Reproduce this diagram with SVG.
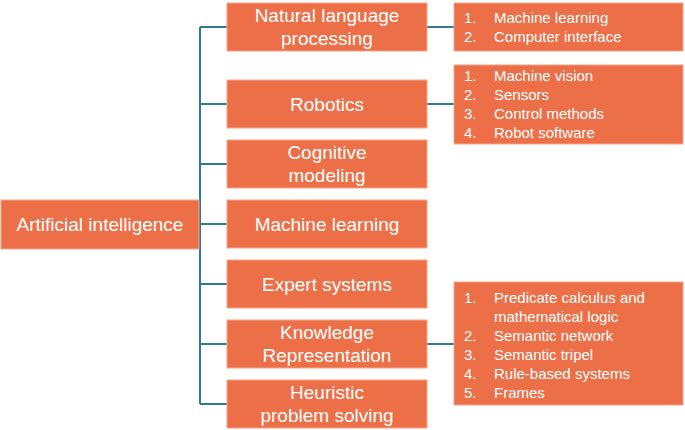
<svg xmlns="http://www.w3.org/2000/svg" width="685" height="430" viewBox="0 0 685 430">
<style>
.box{fill:#EC6F48;stroke:#F3A486;stroke-width:1}
.t{font-family:"Liberation Sans",Arial,sans-serif;fill:#FFFFFF;font-size:19px;text-anchor:middle}
.s{font-family:"Liberation Sans",Arial,sans-serif;fill:#FFFFFF;font-size:15px}
.c{fill:none;stroke:#2F789E;stroke-width:2}
</style>
<rect width="685" height="430" fill="#FFFFFF"/>
<g id="connectors">
<path class="c" d="M199 224.5H200M200 27V404M200 27H227M200 104H227M200 164H227M200 224H227M200 284H227M200 344H227M200 404H227"/>
<path class="c" d="M427 27H454M427 104H454M427 344H454"/>
</g>
<g id="root"><rect class="box" x="1" y="200" width="198" height="49"/><text class="t" x="100" y="231">Artificial intelligence</text></g>
<g id="nlp"><rect class="box" x="227" y="3" width="200" height="48"/><text class="t" x="327" y="22">Natural language</text><text class="t" x="327" y="45">processing</text></g>
<g id="robotics"><rect class="box" x="227" y="80" width="200" height="48"/><text class="t" x="327" y="111">Robotics</text></g>
<g id="cognitive"><rect class="box" x="227" y="140" width="200" height="48"/><text class="t" x="327" y="159">Cognitive</text><text class="t" x="327" y="182">modeling</text></g>
<g id="ml"><rect class="box" x="227" y="200" width="200" height="48"/><text class="t" x="327" y="231">Machine learning</text></g>
<g id="expert"><rect class="box" x="227" y="260" width="200" height="48"/><text class="t" x="327" y="291">Expert systems</text></g>
<g id="kr"><rect class="box" x="227" y="320" width="200" height="48"/><text class="t" x="327" y="339">Knowledge</text><text class="t" x="327" y="362">Representation</text></g>
<g id="heuristic"><rect class="box" x="227" y="380" width="200" height="48"/><text class="t" x="327" y="399">Heuristic</text><text class="t" x="327" y="422">problem solving</text></g>
<g id="nlp-list"><rect class="box" x="454" y="3" width="229" height="48"/>
<text class="s" x="464" y="23">1.</text><text class="s" x="494" y="23">Machine learning</text>
<text class="s" x="464" y="42">2.</text><text class="s" x="494" y="42">Computer interface</text></g>
<g id="robotics-list"><rect class="box" x="454" y="65" width="229" height="79"/>
<text class="s" x="464" y="81">1.</text><text class="s" x="494" y="81">Machine vision</text>
<text class="s" x="464" y="100">2.</text><text class="s" x="494" y="100">Sensors</text>
<text class="s" x="464" y="119">3.</text><text class="s" x="494" y="119">Control methods</text>
<text class="s" x="464" y="138">4.</text><text class="s" x="494" y="138">Robot software</text></g>
<g id="kr-list"><rect class="box" x="454" y="282" width="229" height="123"/>
<text class="s" x="464" y="303">1.</text><text class="s" x="494" y="303">Predicate calculus and</text>
<text class="s" x="494" y="322">mathematical logic</text>
<text class="s" x="464" y="341">2.</text><text class="s" x="494" y="341">Semantic network</text>
<text class="s" x="464" y="360">3.</text><text class="s" x="494" y="360">Semantic tripel</text>
<text class="s" x="464" y="379">4.</text><text class="s" x="494" y="379">Rule-based systems</text>
<text class="s" x="464" y="398">5.</text><text class="s" x="494" y="398">Frames</text></g>
</svg>
